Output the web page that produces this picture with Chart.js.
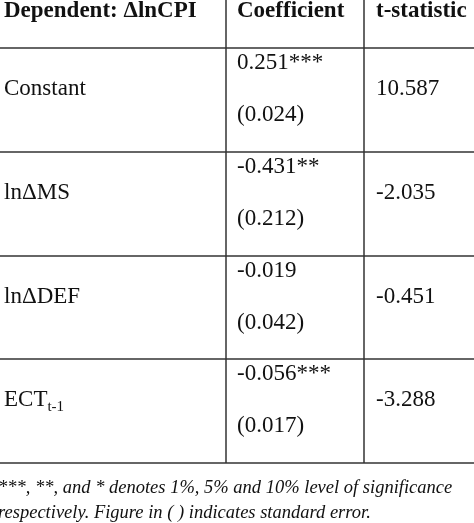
<!DOCTYPE html>
<html><head><meta charset="utf-8">
<script src="https://cdn.jsdelivr.net/npm/chart.js@4/dist/chart.umd.min.js"></script>
<style>html,body{margin:0;padding:0;background:#fff}#w{width:474px;height:523px}</style>
</head><body><div id="w"><canvas id="c"></canvas></div>
<script>
const headers = ["Dependent: \u0394lnCPI", "Coefficient", "t-statistic"];
const variables = ["Constant", "ln\u0394MS", "ln\u0394DEF", "ECT"];
const coefficients = ["0.251***", "-0.431**", "-0.019", "-0.056***"];
const stdErrors = ["(0.024)", "(0.212)", "(0.042)", "(0.017)"];
const tStats = ["10.587", "-2.035", "-0.451", "-3.288"];
const footnotes = ["***, **, and * denotes 1%, 5% and 10% level of significance", "respectively. Figure in ( ) indicates standard error."];
const rowLines = [48, 152, 256, 359, 463];
const colLines = [226, 364];
const colText = [4, 237, 376];

const tablePlugin = {
  id: 'table',
  afterDraw(chart) {
    const ctx = chart.ctx, xs = chart.scales.x, ys = chart.scales.y;
    const X = v => xs.getPixelForValue(v), Y = v => ys.getPixelForValue(v);
    ctx.save();
    ctx.strokeStyle = '#333'; ctx.lineWidth = 1.5;
    rowLines.forEach(r => { ctx.beginPath(); ctx.moveTo(X(0), Y(r)); ctx.lineTo(X(474), Y(r)); ctx.stroke(); });
    colLines.forEach(c => { ctx.beginPath(); ctx.moveTo(X(c), Y(0)); ctx.lineTo(X(c), Y(463)); ctx.stroke(); });
    ctx.fillStyle = '#111'; ctx.textBaseline = 'middle'; ctx.textAlign = 'left';
    ctx.font = 'bold 23px "Liberation Serif", serif';
    headers.forEach((h, i) => ctx.fillText(h, X(colText[i]), Y(11)));
    const body = '23px "Liberation Serif", serif';
    ctx.font = body;
    variables.forEach((v, i) => {
      const top = rowLines[i];
      ctx.fillText(v, X(colText[0]), Y(top + 41));
      if (v === 'ECT') {
        const w = ctx.measureText(v).width;
        ctx.font = '15px "Liberation Serif", serif';
        ctx.fillText('t-1', X(colText[0]) + w, Y(top + 48));
        ctx.font = body;
      }
      ctx.fillText(coefficients[i], X(colText[1]), Y(top + 15));
      ctx.fillText(stdErrors[i], X(colText[1]), Y(top + 67));
      ctx.fillText(tStats[i], X(colText[2]), Y(top + 41));
    });
    ctx.font = 'italic 18.5px "Liberation Serif", serif';
    footnotes.forEach((f, i) => ctx.fillText(f, X(-2), Y(488 + i * 25)));
    ctx.restore();
  }
};

new Chart(document.getElementById('c'), {
  type: 'scatter',
  data: { datasets: [{ data: [], pointRadius: 0 }] },
  options: {
    responsive: true, maintainAspectRatio: false, animation: false,
    layout: { padding: 0 },
    plugins: { legend: { display: false }, tooltip: { enabled: false } },
    scales: {
      x: { type: 'linear', min: 0, max: 474, display: false },
      y: { type: 'linear', min: 0, max: 523, reverse: true, display: false }
    }
  },
  plugins: [tablePlugin]
});
</script></body></html>
